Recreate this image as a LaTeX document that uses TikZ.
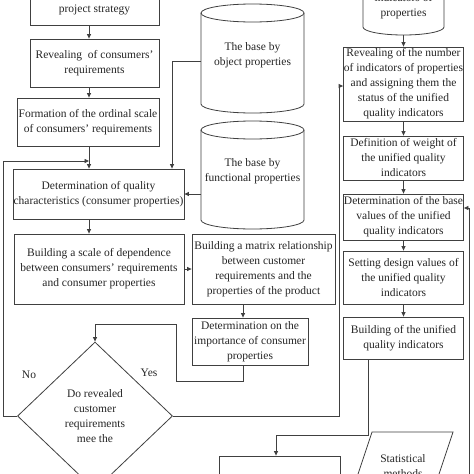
\documentclass[tikz,border=0pt]{standalone}
\usepackage{fontspec}
\setmainfont{Liberation Serif}
\usetikzlibrary{arrows.meta,shapes.geometric,calc}
\begin{document}
\begin{tikzpicture}[x=1pt,y=-1pt,
  font=\fontsize{11.5}{15}\selectfont,
  ln/.style={draw=black!75,line width=0.8pt},
  arr/.style={ln,-{Triangle[length=4.5pt,width=4pt]}},
  box/.style={ln,rectangle,align=center,inner sep=0pt,text=black!85},
  txt/.style={align=center,inner sep=0pt,text=black!85},
  decision/.style={ln,diamond,align=center,inner sep=0pt,text=black!85,minimum width=155pt,minimum height=148pt},
]
\useasboundingbox (0,0) rectangle (474,474);
\clip (0,0) rectangle (474,474);
\fill[white] (0,0) rectangle (474,474);

% ---------- left column ----------
\node[box,minimum width=129pt,minimum height=31pt] (strat) at (94.5,9.5) {project strategy};
\node[box,minimum width=129pt,minimum height=48pt] (rev) at (94.5,63) {Revealing\ \ of consumers’\\requirements};
\node[box,minimum width=142pt,minimum height=48pt] (ord) at (88,122) {Formation of the ordinal scale\\of consumers’ requirements};
\node[box,minimum width=171pt,minimum height=50pt] (qual) at (98.5,194) {Determination of quality\\characteristics (consumer properties)};
\node[box,minimum width=170pt,minimum height=70pt] (scale) at (99,269) {Building a scale of dependence\\between consumers’ requirements\\and consumer properties};
\node[box,minimum width=143pt,minimum height=70pt] (mat) at (263.5,269) {Building a matrix relationship\\between customer\\requirements and the\\properties of the product};
\node[box,minimum width=116pt,minimum height=47pt] (imp) at (250,341.5) {Determination on the\\importance of consumer\\properties};
\node[decision] (dia) at (95,416) {Do revealed\\customer\\requirements\\mee the};
\node[txt] (no) at (29,375) {No};
\node[txt] (yes) at (149,373) {Yes};
\node[box,minimum width=121pt,minimum height=68pt] (btm) at (279.5,490) {};

% ---------- databases ----------
\draw[ln] (252.5,13) ellipse [x radius=51.5, y radius=9];
\draw[ln] (201,13) -- (201,104) arc[start angle=180, end angle=0, x radius=51.5, y radius=9] -- (304,13);
\node[txt] (db1) at (252.5,55) {The base by\\object properties};
\draw[ln] (252.5,130) ellipse [x radius=51.5, y radius=9];
\draw[ln] (201,130) -- (201,220) arc[start angle=180, end angle=0, x radius=51.5, y radius=9] -- (304,130);
\node[txt] (db2) at (252.5,171) {The base by\\functional properties};
\draw[ln] (363,-30) -- (363,27) arc[start angle=180, end angle=0, x radius=40.5, y radius=8] -- (444,-30);
\node[txt] (db3) at (403.5,6.5) {indicators of\\properties};
\coordinate (db1w) at (201,61);
\coordinate (db2w) at (201,194);
\coordinate (db3s) at (403.5,35);

% ---------- right column ----------
\node[box,minimum width=120pt,minimum height=74pt] (r1) at (403.5,84) {Revealing of the number\\of indicators of properties\\and assigning them the\\status of the unified\\quality indicators};
\node[box,minimum width=120pt,minimum height=44pt] (r2) at (403.5,158) {Definition of weight of\\the unified quality\\indicators};
\node[box,minimum width=120pt,minimum height=46pt] (r3) at (403.5,217) {Determination of the base\\values of the unified\\quality indicators};
\node[box,minimum width=120pt,minimum height=53pt] (r4) at (403.5,277.5) {Setting design values of\\the unified quality\\indicators};
\node[box,minimum width=120pt,minimum height=42pt] (r5) at (403.5,338) {Building of the unified\\quality indicators};

% statistical methods (parallelogram)
\draw[ln] (342.7,520) -- (372,432) -- (453,432) -- (423.7,520);
\node[txt] (stat) at (403,466.5) {Statistical\\methods};

% ---------- connectors ----------
\coordinate (colA) at (89,0);
\coordinate (colB) at (243,0);
\draw[arr] (strat.south -| colA) -- (rev.north -| colA);
\draw[arr] (rev.south -| colA) -- (ord.north -| colA);
\draw[arr] (ord.south -| colA) -- (qual.north -| colA);
\draw[arr] (qual.south -| colA) -- (scale.north -| colA);
\draw[arr] (scale.east) -- (mat.west);
\draw[arr] (mat.south -| colB) -- (imp.north -| colB);

\coordinate (d1c) at (172,61);
\draw[arr] (db1w) -- (d1c) -- (qual.north -| d1c);
\draw[arr] (db2w) -- (qual.east |- db2w);

% yes loop from importance to diamond top
\coordinate (y1) at (243,381);
\coordinate (y2) at (176,381);
\coordinate (y3) at (176,324);
\coordinate (y4) at (95,324);
\draw[arr] (imp.south -| colB) -- (y1) -- (y2) -- (y3) -- (y4) -- (dia.north);

% no loop
\coordinate (n1) at (3,416);
\coordinate (n2) at (3,161);
\coordinate (n3) at (89,161);
\draw[arr] (dia.west) -- (n1) -- (n2) -- (n3);

% diamond right to r1
\coordinate (e1) at (339,416);
\coordinate (e2) at (339,86);
\draw[arr] (dia.east) -- (e1) -- (e2) -- (r1.west |- e2);

% right column chain
\draw[arr] (db3s) -- (r1.north);
\draw[arr] (r1) -- (r2);
\draw[arr] (r2) -- (r3);
\draw[arr] (r3) -- (r4);
\draw[arr] (r4) -- (r5);

% r5 to bottom box
\coordinate (b0) at (368,0);
\coordinate (b1) at (368,435);
\coordinate (b2) at (276,435);
\draw[arr] (r5.south -| b0) -- (b1) -- (b2) -- (btm.north -| b2);

% feedback right side
\coordinate (f1) at (469,520);
\coordinate (f2) at (469,208);
\draw[arr] (f1) -- (f2) -- (r3.east |- f2);
\end{tikzpicture}
\end{document}
